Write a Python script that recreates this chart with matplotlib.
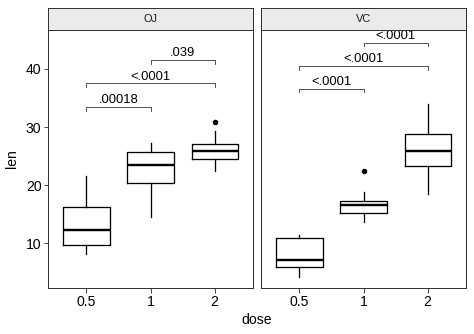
import numpy as np
import matplotlib
matplotlib.use("Agg")
import matplotlib.pyplot as plt
from matplotlib.patches import Rectangle

plt.rcParams['font.family'] = ['Liberation Sans', 'DejaVu Sans']

# ToothGrowth: tooth length by supplement and dose
doses = ['0.5', '1', '2']
supps = ['OJ', 'VC']
len_oj = [
    [15.2, 21.5, 17.6, 9.7, 14.5, 10.0, 8.2, 9.4, 16.5, 9.7],
    [19.7, 23.3, 23.6, 26.4, 20.0, 25.2, 25.8, 21.2, 14.5, 27.3],
    [25.5, 26.4, 22.4, 24.5, 24.8, 30.9, 26.4, 27.3, 29.4, 23.0],
]
len_vc = [
    [4.2, 11.5, 7.3, 5.8, 6.4, 10.0, 11.2, 11.2, 5.2, 7.0],
    [16.5, 16.5, 15.2, 17.3, 22.5, 17.3, 13.6, 14.5, 18.8, 15.5],
    [23.6, 18.5, 33.9, 25.5, 26.4, 32.5, 26.7, 21.5, 23.3, 29.5],
]
# pairwise comparisons: (group a, group b, bracket height, p label)
pairs_oj = [(1, 2, 33.4, '.00018'), (1, 3, 37.5, '<.0001'), (2, 3, 41.5, '.039')]
pairs_vc = [(1, 2, 36.6, '<.0001'), (1, 3, 40.5, '<.0001'), (2, 3, 44.5, '<.0001')]

W, H = 474, 334
fig = plt.figure(figsize=(W / 72, H / 72), dpi=72)

def px_axes(x0, y0, x1, y1):
    return fig.add_axes([x0 / W, 1 - y1 / H, (x1 - x0) / W, (y1 - y0) / H])

grey = '#333333'
panels = [(48, 253, len_oj, pairs_oj, supps[0]), (261, 466, len_vc, pairs_vc, supps[1])]
for i, (x0, x1, data, pairs, name) in enumerate(panels):
    ax = px_axes(x0, 30, x1, 288)
    ax.boxplot(data, positions=[1, 2, 3], widths=0.72, showcaps=False,
               boxprops=dict(color='black', linewidth=1.3),
               whiskerprops=dict(color='black', linewidth=1.3),
               medianprops=dict(color='black', linewidth=2.4),
               flierprops=dict(marker='o', markerfacecolor='black',
                               markeredgecolor='black', markersize=4.5))
    for a, b, yb, lab in pairs:
        ax.plot([a, a, b, b], [yb - 0.6, yb, yb, yb - 0.6], color='#444444', lw=0.9)
        ax.text((a + b) / 2, yb + 0.15, lab, ha='center', va='bottom', fontsize=13)
    ax.set_xlim(0.4, 3.6)
    ax.set_ylim(2.3, 46.7)
    ax.set_xticks([1, 2, 3])
    ax.set_xticklabels(doses)
    ax.set_yticks([10, 20, 30, 40])
    ax.tick_params(direction='out', length=4.5, width=0.9, colors=grey,
                   labelsize=14, labelcolor='black', pad=2)
    if i > 0:
        ax.tick_params(axis='y', left=False, labelleft=False)
    for s in ax.spines.values():
        s.set_color(grey)
        s.set_linewidth(1.0)
    # facet strip
    st = px_axes(x0, 8, x1, 30)
    st.add_patch(Rectangle((0, 0), 1, 1, facecolor='#ebebeb', edgecolor='none',
                           transform=st.transAxes))
    st.set_xticks([])
    st.set_yticks([])
    for s in st.spines.values():
        s.set_color(grey)
        s.set_linewidth(1.0)
    st.text(0.5, 0.5, name, ha='center', va='center', fontsize=11, color='#1a1a1a',
            transform=st.transAxes)

fig.text(257 / W, 1 - 320 / H, 'dose', ha='center', va='center', fontsize=14)
fig.text(12 / W, 1 - 159 / H, 'len', ha='center', va='center', fontsize=14,
         rotation=90)

fig.savefig('out.png', dpi=72)
